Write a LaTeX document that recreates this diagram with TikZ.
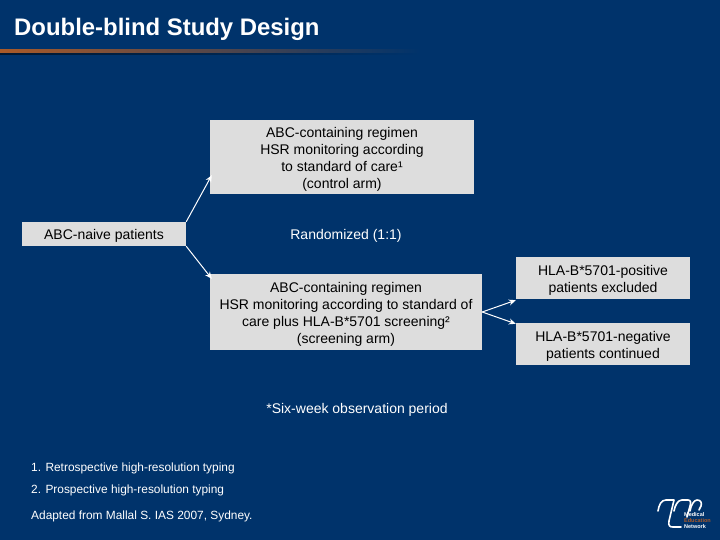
\documentclass[tikz,border=0pt]{standalone}
\usepackage{fontspec}
\setmainfont{Liberation Sans}
\usetikzlibrary{calc, positioning, arrows.meta}
\definecolor{slidebg}{RGB}{0,51,107}
\definecolor{boxgray}{RGB}{221,221,221}
\definecolor{rulebrown}{RGB}{170,90,40}

\begin{document}
\begin{tikzpicture}[
    x=1pt, y=-1pt,
    >={Stealth[length=7pt,width=6pt]},
    font=\fontsize{14}{17}\selectfont
]

    % Global styles
    \tikzset{
        stepbox/.style={
            fill=boxgray, text=black, align=center, inner sep=0pt,
            execute at begin node={\rule{0pt}{#1}}
        },
        plaintext/.style={text=white, inner sep=0pt},
        refline/.style={plaintext, anchor=west, font=\fontsize{11.9}{14}\selectfont},
        link/.style={->, white, line width=1pt},
        logoline/.style={white, line width=1.6pt, line cap=round, line join=round},
        logotext/.style={inner sep=0pt, anchor=west, font=\bfseries\fontsize{5.5}{5.5}\selectfont}
    }

    % Background
    \fill[slidebg] (0,0) rectangle (720,540);
    \useasboundingbox (0,0) rectangle (720,540);

    % Title and rule
    \node[plaintext, anchor=west, font=\bfseries\fontsize{23.9}{28}\selectfont] (title) at (14,29) {Double-blind Study Design};
    \shade[left color=black!55!slidebg, right color=slidebg] (0,53) rectangle (420,55);
    \shade[left color=rulebrown, right color=slidebg] (0,50) rectangle (420,53);

    % Boxes
    \node[stepbox=14.2pt, minimum width=164pt, minimum height=24pt] (patients) at (104,234) {ABC-naive patients};
    \node[stepbox=65.2pt, minimum width=264pt, minimum height=74pt] (control) at (342,157)
        {ABC-containing regimen\\HSR monitoring according\\to standard of care¹\\(control arm)};
    \node[stepbox=65.2pt, minimum width=272pt, minimum height=76pt] (screening) at (346,312)
        {ABC-containing regimen\\HSR monitoring according to standard of\\care plus HLA-B*5701 screening²\\(screening arm)};
    \node[stepbox=31.2pt, minimum width=174pt, minimum height=42pt] (positive) at (603,278)
        {HLA-B*5701-positive\\patients excluded};
    \node[stepbox=31.2pt, minimum width=174pt, minimum height=42pt] (negative) at (603,344)
        {HLA-B*5701-negative\\patients continued};

    % Free texts
    \node[plaintext] (random) at (346,236) {Randomized (1:1)};
    \node[plaintext] (period) at (357,410) {*Six-week observation period};

    % Wiring
    \draw[link] (patients.north east) -- ($(control.south west)+(2,-19)$);
    \draw[link] (patients.south east) -- ($(screening.north west)+(2,5)$);
    \draw[link] (screening.east) -- ($(positive.south west)+(0,1)$);
    \draw[link] (screening.east) -- ($(negative.north west)+(0,1)$);

    % Footnotes
    \node[refline] (ref1) at (31,468) {1. Retrospective high-resolution typing};
    \node[refline] (ref2) at (31,490) {2. Prospective high-resolution typing};
    \node[refline] (source) at (31,516) {Adapted from Mallal S. IAS 2007, Sydney.};

    % Logo
    \draw[logoline] (658,511) .. controls (659,505) and (661,500) .. (666,500) -- (674,500)
        -- (669,521) .. controls (668,526) and (670,527) .. (673,527) -- (681,527);
    \draw[logoline] (674,511) .. controls (675,505) and (678,500) .. (682,500) -- (688,500)
        .. controls (691,500) and (691,503) .. (690,506) -- (687,517);
    \draw[logoline] (690,511) .. controls (691,505) and (694,500) .. (697,500)
        .. controls (701,500) and (702,503) .. (701,506) -- (699,510);
    \node[logotext, text=white] (logoa) at (684,515) {Medical};
    \node[logotext, text=rulebrown] (logob) at (684,521) {Education};
    \node[logotext, text=white] (logoc) at (684,527) {Network};

\end{tikzpicture}
\end{document}
